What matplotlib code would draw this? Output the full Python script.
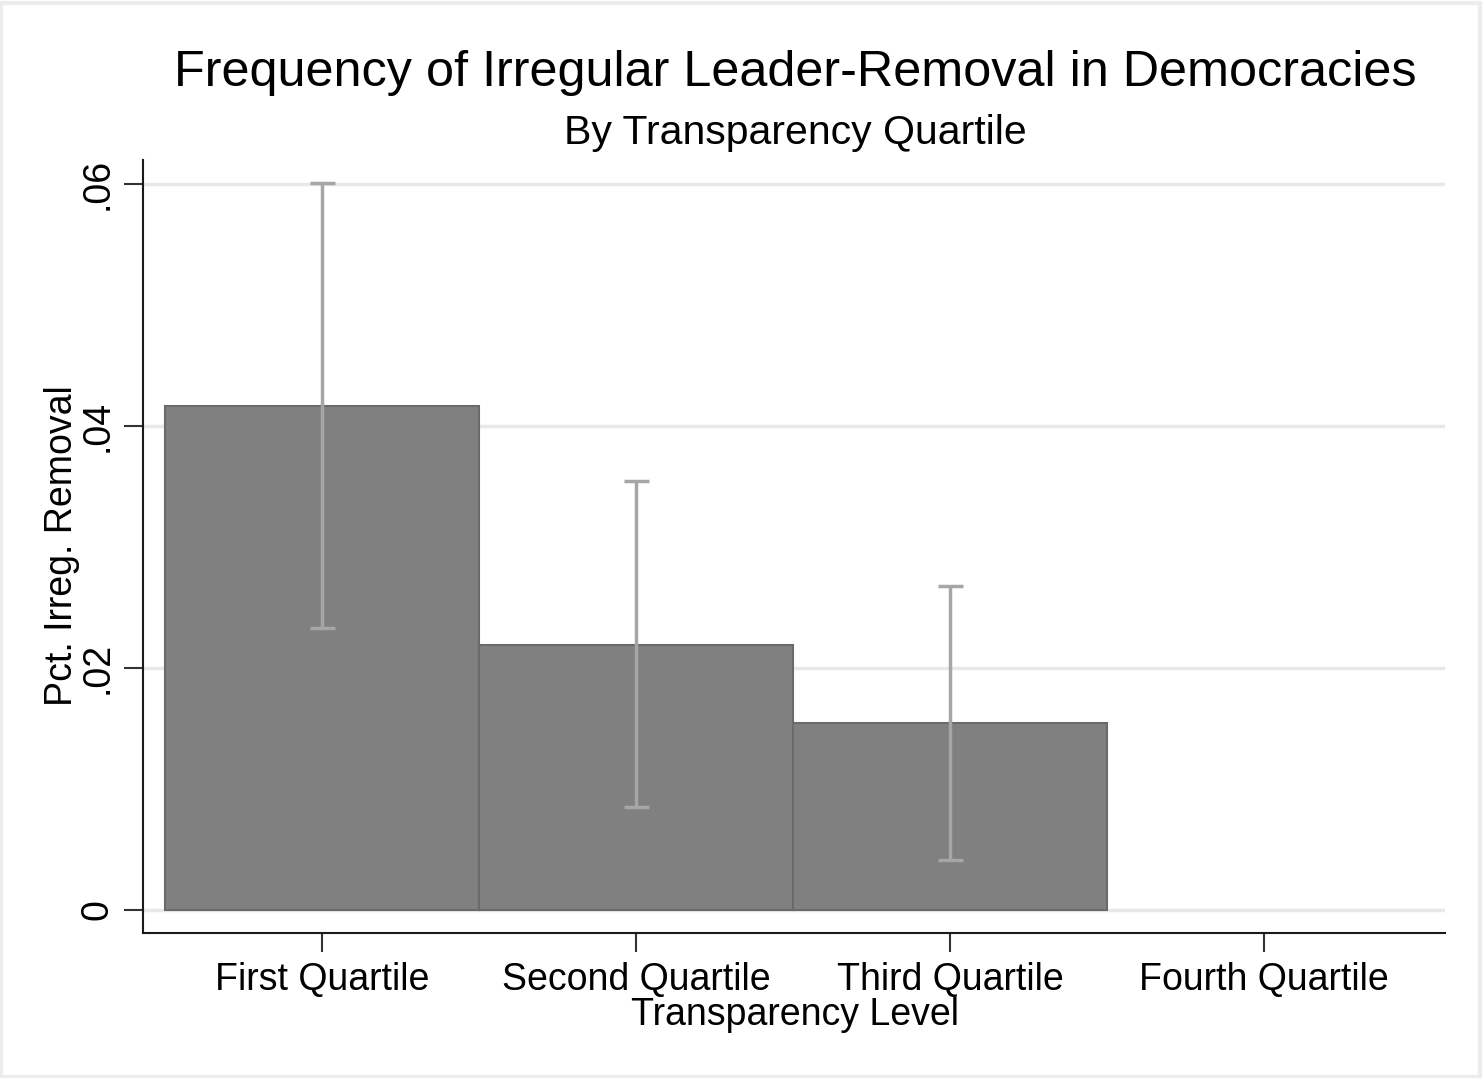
import matplotlib
matplotlib.use("Agg")
import matplotlib.pyplot as plt
from matplotlib.patches import Rectangle

plt.rcParams['font.family'] = ['Liberation Sans', 'DejaVu Sans']

# data
quartiles = ["First Quartile", "Second Quartile", "Third Quartile", "Fourth Quartile"]
pct_removal = [0.04165, 0.0219, 0.01545, 0.0]
ci_low = [0.0233, 0.00851, 0.00413, None]
ci_high = [0.0601, 0.03545, 0.02678, None]
yticks = [0, 0.02, 0.04, 0.06]
ytick_labels = ["0", ".02", ".04", ".06"]

fig = plt.figure(figsize=(14.84, 10.78), dpi=100)
ax = fig.add_axes([0.0964, 0.1345, 0.8773, 0.7171])

# faint frame round the whole picture, as in the exported graph
fig.patches.append(Rectangle((0.001, 0.001), 0.996, 0.996, transform=fig.transFigure,
                             fill=False, edgecolor='#ececec', linewidth=3))

x = list(range(len(quartiles)))
# bars with zero height get no outline (nothing shows in the reference)
edge_w = [1.5 if v > 0 else 0 for v in pct_removal]
ax.bar(x, pct_removal, width=1.0, color='#808080', edgecolor='#6a6a6a', linewidth=edge_w, zorder=2)

for i in x:
    if ci_low[i] is None:
        continue
    ax.errorbar(i, (ci_low[i] + ci_high[i]) / 2, yerr=(ci_high[i] - ci_low[i]) / 2,
                fmt='none', ecolor='#a6a6a6', elinewidth=2.5, capsize=9, capthick=2.5, zorder=3)

ax.set_xlim(-0.570, 3.576)
ax.set_ylim(-0.0019, 0.0620)

ax.set_yticks(yticks)
ax.set_yticklabels(ytick_labels, rotation=90, va='center', fontsize=27)
ax.set_xticks(x)
ax.set_xticklabels(quartiles, fontsize=27)

ax.grid(axis='y', color='#e8e8e8', linewidth=2.5, zorder=0)
ax.set_axisbelow(True)

for s in ['top', 'right']:
    ax.spines[s].set_visible(False)
for s in ['left', 'bottom']:
    ax.spines[s].set_linewidth(1.5)
    ax.spines[s].set_color('#1a1a1a')

ax.tick_params(axis='both', length=14, width=1.5, color='#333333')
ax.tick_params(axis='y', pad=6)
ax.tick_params(axis='x', pad=7)

fig.text(0.5358, 0.932, "Frequency of Irregular Leader-Removal in Democracies",
         ha='center', va='center', fontsize=36.3)
fig.text(0.5358, 0.877, "By Transparency Quartile", ha='center', va='center', fontsize=29.5)
fig.text(0.5358, 0.0584, "Transparency Level", ha='center', va='center', fontsize=27)
fig.text(0.0415, 0.4935, "Pct. Irreg. Removal", ha='center', va='center', rotation=90, fontsize=27)

fig.savefig("out.png", dpi=100)
